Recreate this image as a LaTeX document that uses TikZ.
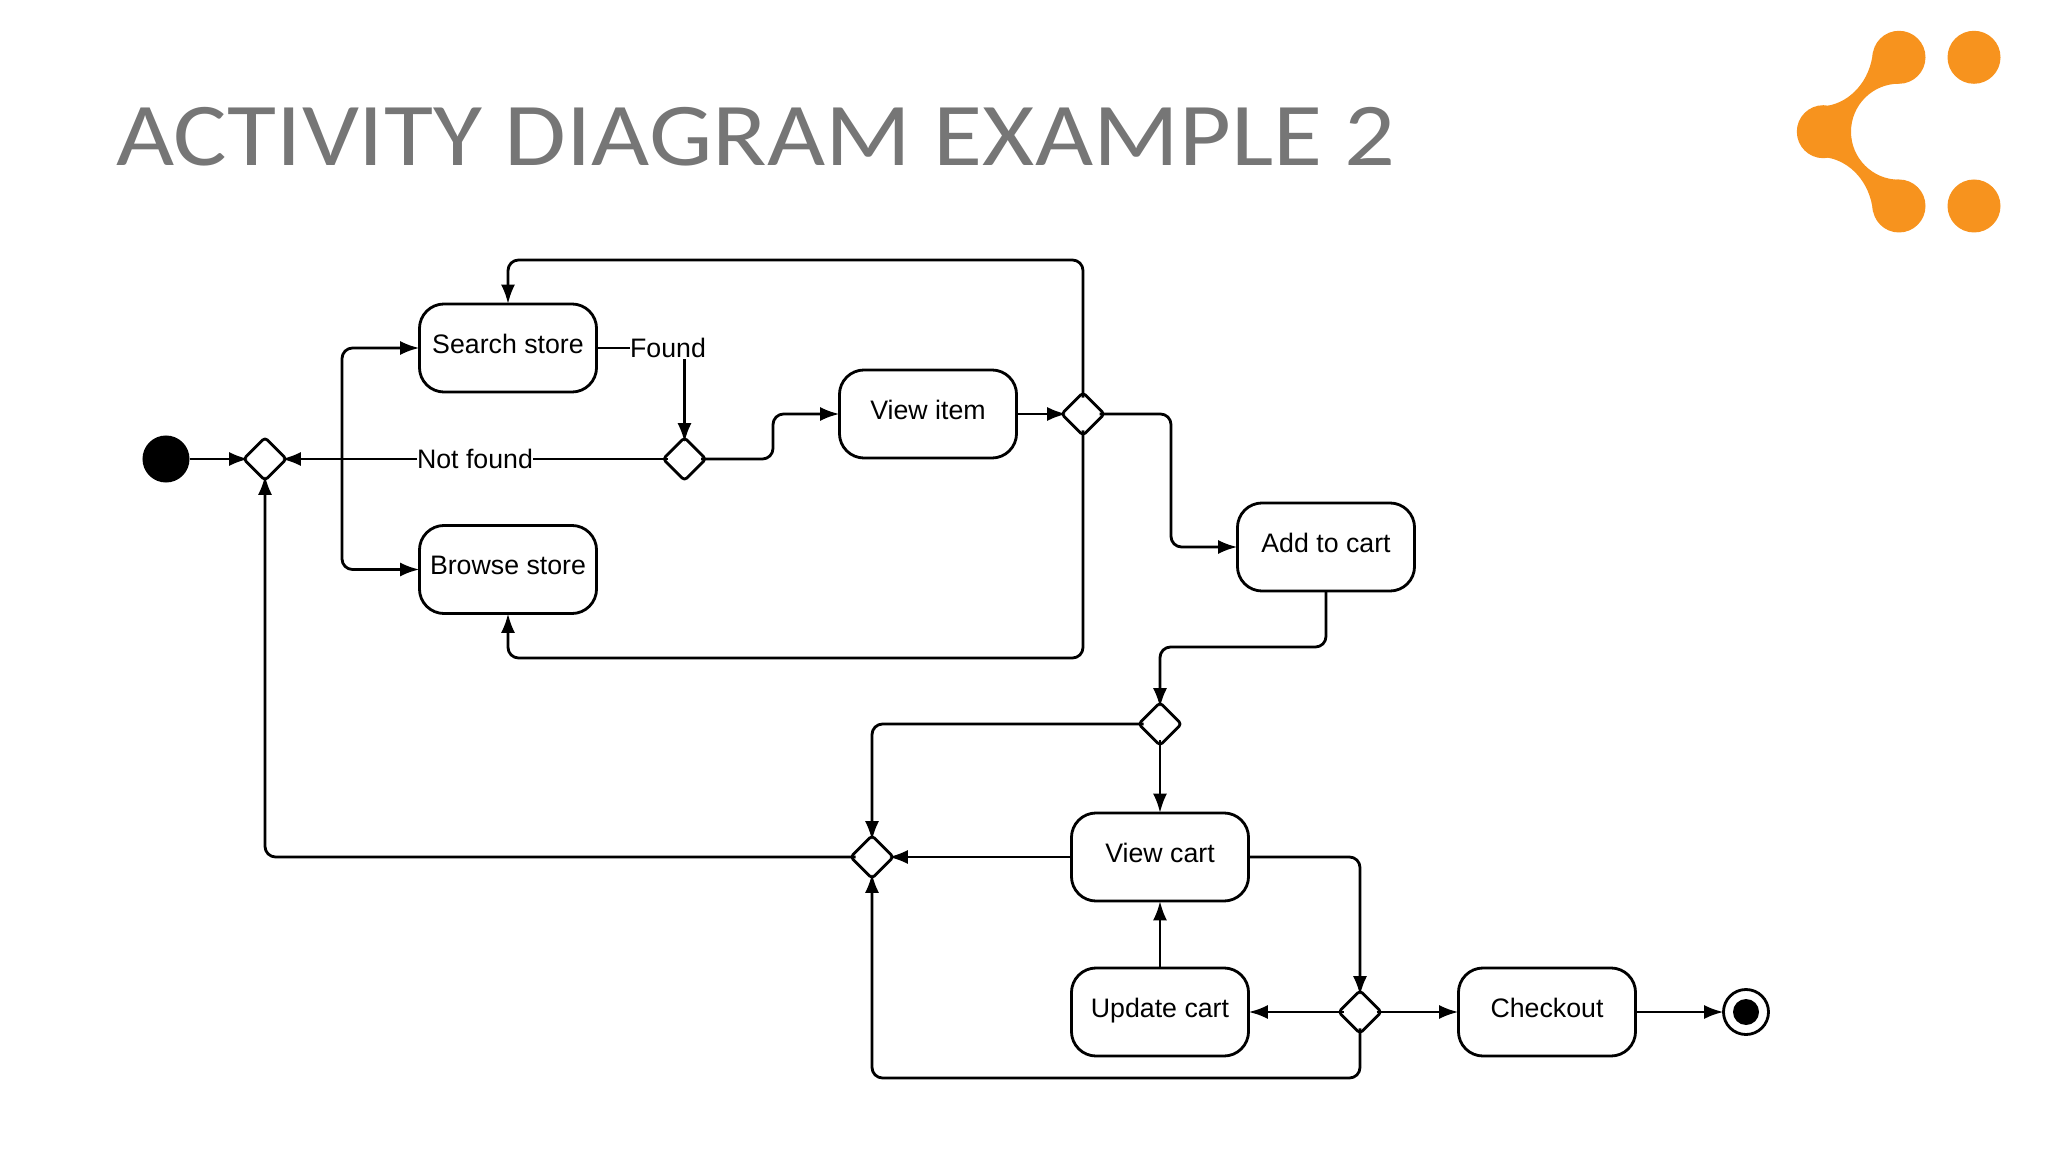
\documentclass[tikz,border=0pt]{standalone}
\usepackage{fontspec}
\setmainfont{Liberation Sans}
\newfontfamily\titlefont[FakeStretch=1.12]{Carlito}
\usetikzlibrary{arrows.meta,shapes.geometric}
\definecolor{logoorange}{HTML}{F7931E}
\definecolor{titlegray}{HTML}{767676}
\tikzset{
	activity/.style={draw, rounded corners=7pt, minimum width=1.77cm, minimum height=0.88cm, inner sep=0pt, outer sep=0pt, text height=6pt, text depth=2.9pt, font=\fontsize{7.6}{8}\selectfont},
	decision/.style={draw, diamond, rounded corners=1pt, fill=white, minimum width=0.4cm, minimum height=0.4cm, inner sep=0pt, outer sep=-1pt},
	guard/.style={fill=white, inner xsep=0pt, inner ysep=0.5pt, outer sep=0pt, text height=5.5pt, text depth=0pt, font=\fontsize{7.6}{8}\selectfont},
	flow/.style={->, rounded corners=3pt},
}
\begin{document}
\begin{tikzpicture}[x=0.01cm, y=-0.01cm, line width=0.8pt, line join=round, >={Latex[length=5.5pt,width=4pt]}]
	\useasboundingbox (0,0) rectangle (2048,1152);
	% title and logo
	\node[anchor=base west, inner sep=0pt, text=titlegray, font=\titlefont\fontsize{25.5}{30}\selectfont] (title) at (115,166) {ACTIVITY DIAGRAM EXAMPLE 2};
	\fill[logoorange] (1828,105.7) .. controls (1850,101.7) and (1870,81.7) .. (1873,51.7) -- (1899,83.7)
		.. controls (1872.5,83.7) and (1851,105.2) .. (1851,131.7) .. controls (1851,158.2) and (1872.5,179.7) .. (1899,179.7)
		-- (1873,211.7) .. controls (1870,181.7) and (1850,161.7) .. (1828,157.7) -- cycle;
	\foreach \x/\y in {1974/57.3, 1974/206, 1899/57.3, 1899/206, 1823.3/131.7}
		\fill[logoorange] (\x,\y) circle (26.5);

	% nodes
	\node[circle, fill=black, minimum size=0.47cm, inner sep=0pt, outer sep=0pt] (start) at (166,459) {};
	\node[decision] (merge1) at (265,459) {};
	\node[activity] (search) at (508,348) {Search store};
	\node[activity] (browse) at (508,569.5) {Browse store};
	\node[decision] (found) at (684.5,459) {};
	\node[activity] (viewitem) at (928,414) {View item};
	\node[decision] (itemdec) at (1083,414) {};
	\node[activity] (addcart) at (1326,547) {Add to cart};
	\node[decision] (cartdec) at (1160,724) {};
	\node[activity] (viewcart) at (1160,857) {View cart};
	\node[activity] (updatecart) at (1160,1012) {Update cart};
	\node[decision] (merge2) at (872,857) {};
	\node[decision] (checkdec) at (1360,1012) {};
	\node[activity] (checkout) at (1547,1012) {Checkout};
	\node[circle, draw, fill=white, minimum size=0.45cm, inner sep=0pt, outer sep=0pt] (finish) at (1746,1012) {};
	\fill (finish) circle (13);

	% guards
	\node[guard] (notfound) at (475,459) {Not found};
	\node[guard] (foundlbl) at (668,348) {Found};
	\coordinate (branch) at (342,459);

	% connectors
	\draw[->] (start) -- (merge1);
	\draw (found) -- (notfound);
	\draw[->] (notfound) -- (merge1);
	\draw[flow] (branch) |- (search.west);
	\draw[flow] (branch) |- (browse.west);
	\draw (search.east) -- (foundlbl);
	\draw[->] (found.north |- foundlbl.south) -- (found.north);
	\draw[flow] (found.east) -- (773,459) -- (773,414) -- (viewitem.west);
	\draw[->] (viewitem) -- (itemdec);
	\draw[flow] (itemdec.north) -- (1083,260) -- (508,260) -- (search.north);
	\draw[flow] (itemdec.south) -- (1083,658) -- (508,658) -- (browse.south);
	\draw[flow] (itemdec.east) -- (1171,414) -- (1171,547) -- (addcart.west);
	\draw[flow] (addcart.south) -- (1326,647) -- (1160,647) -- (cartdec.north);
	\draw[->] (cartdec) -- (viewcart);
	\draw[flow] (cartdec.west) -- (872,724) -- (merge2.north);
	\draw[->] (viewcart) -- (merge2);
	\draw[flow] (merge2.west) -- (265,857) -- (merge1.south);
	\draw[->] (updatecart) -- (viewcart);
	\draw[flow] (viewcart.east) -- (1360,857) -- (checkdec.north);
	\draw[->] (checkdec) -- (updatecart);
	\draw[->] (checkdec) -- (checkout);
	\draw[->] (checkout) -- (finish);
	\draw[flow] (checkdec.south) -- (1360,1078) -- (872,1078) -- (merge2.south);
\end{tikzpicture}
\end{document}
